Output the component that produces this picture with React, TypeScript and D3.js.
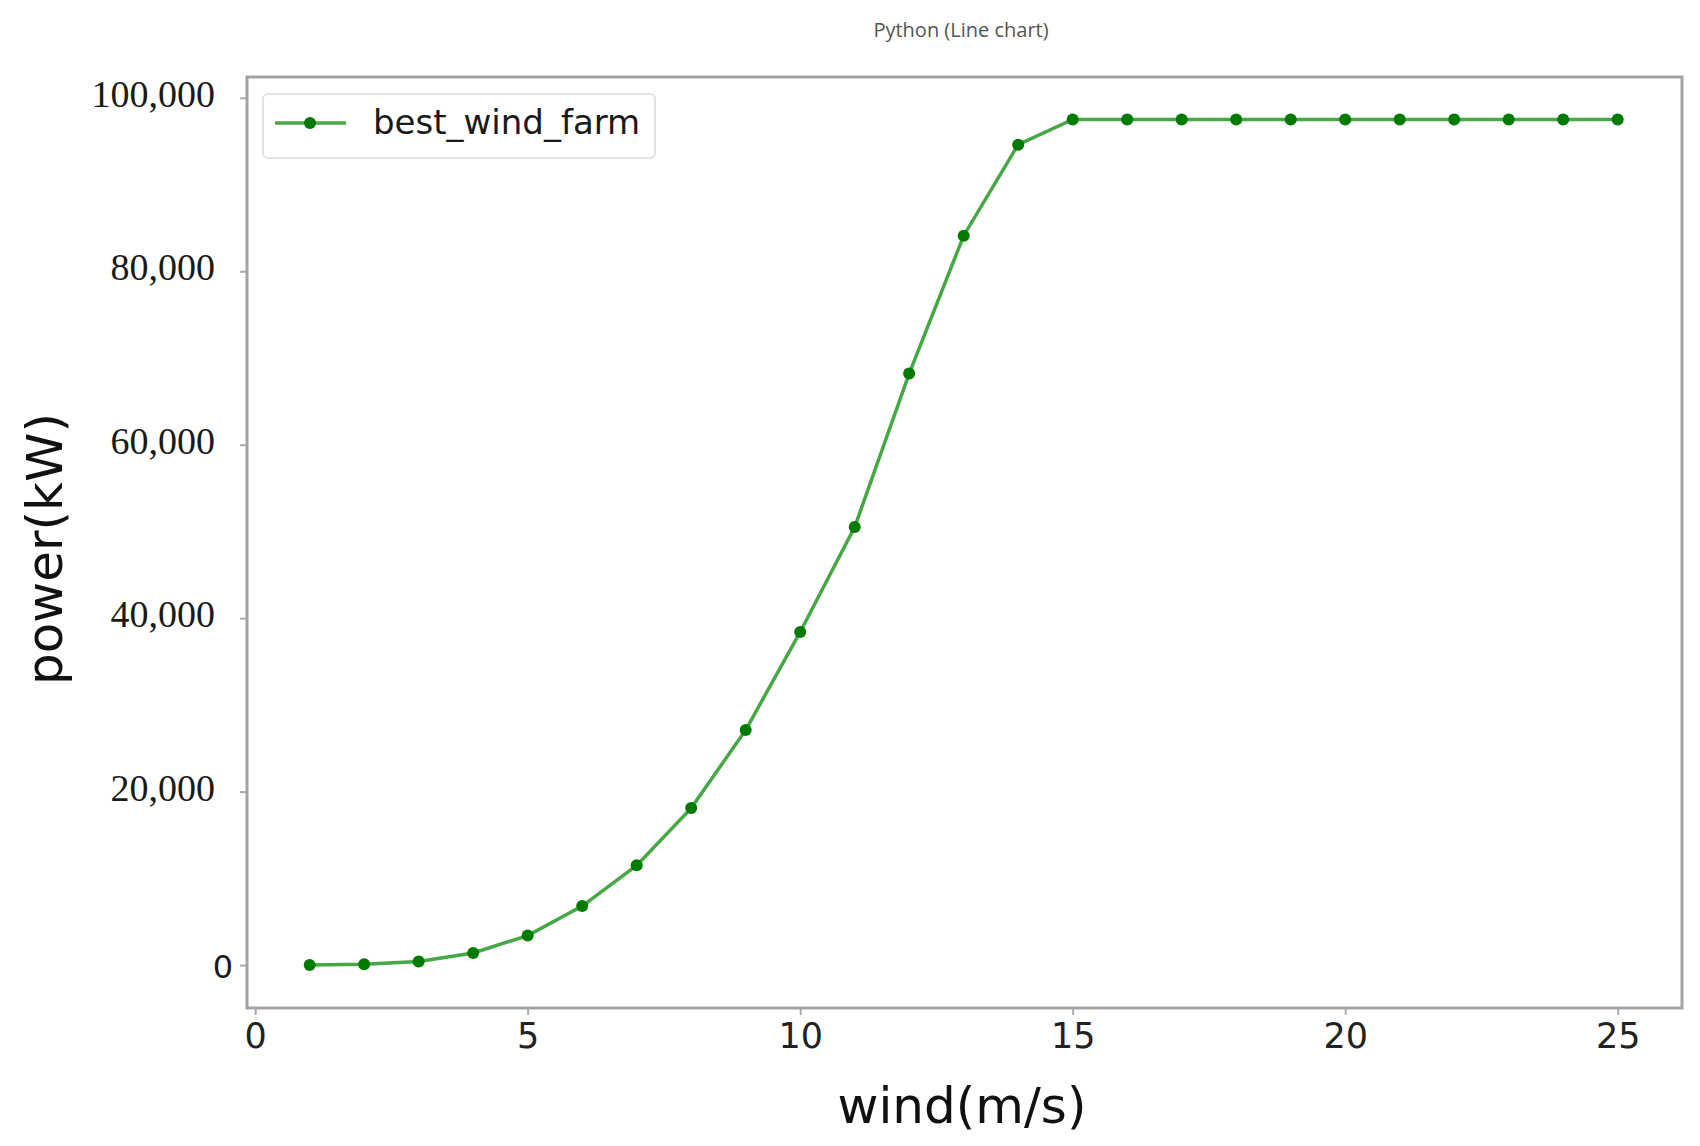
import * as d3 from "d3";
import { useEffect, useRef } from "react";

// wind speed (m/s) and farm output (kW)
const windSpeeds = [
  1, 2, 3, 4, 5, 6, 7, 8, 9, 10, 11, 12, 13, 14, 15, 16, 17, 18, 19, 20, 21,
  22, 23, 24, 25,
];
const farmPower = [
  0, 100, 400, 1400, 3400, 6800, 11500, 18100, 27100, 38400, 50500, 68200,
  84100, 94600, 97500, 97500, 97500, 97500, 97500, 97500, 97500, 97500, 97500,
  97500, 97500,
];
const xTicks = [0, 5, 10, 15, 20, 25];
const yTicks = [0, 20000, 40000, 60000, 80000, 100000];
const seriesName = "best_wind_farm";

const WIDTH = 1700;
const HEIGHT = 1146;

export default function App() {
  const svgRef = useRef<SVGSVGElement>(null);

  useEffect(() => {
    const svg = d3.select(svgRef.current);
    svg.selectAll("*").remove();

    const left = 247;
    const right = 1682;
    const top = 77;
    const bottom = 1008;

    const x = d3.scaleLinear().domain([-0.15, 26.18]).range([left, right]);
    const y = d3.scaleLinear().domain([-4950, 102400]).range([bottom, top]);

    // title
    svg
      .append("text")
      .attr("x", 961)
      .attr("y", 37)
      .attr("text-anchor", "middle")
      .attr("font-family", "'Open Sans', sans-serif")
      .attr("font-size", 20)
      .attr("fill", "#555")
      .text("Python (Line chart)");

    // x axis
    const xAxis = svg
      .append("g")
      .attr("transform", `translate(0,${bottom})`)
      .call(
        d3
          .axisBottom(x)
          .tickValues(xTicks)
          .tickSize(7)
          .tickPadding(8)
          .tickFormat((d) => `${d}`)
      );
    xAxis.select(".domain").remove();
    xAxis.selectAll(".tick line").attr("stroke", "#aaa").attr("stroke-width", 2);
    xAxis
      .selectAll(".tick text")
      .attr("font-family", "'DejaVu Sans', sans-serif")
      .attr("font-size", 35)
      .attr("fill", "#222");

    // y axis: 0 in sans, the rest in serif
    const yAxis = svg
      .append("g")
      .attr("transform", `translate(${left},0)`)
      .call(d3.axisLeft(y).tickValues(yTicks).tickSize(7).tickFormat(() => ""));
    yAxis.select(".domain").remove();
    yAxis.selectAll(".tick line").attr("stroke", "#aaa").attr("stroke-width", 2);

    svg
      .append("g")
      .selectAll("text")
      .data(yTicks)
      .join("text")
      .attr("x", (d) => (d === 0 ? 233 : 215))
      .attr("y", (d) => (d === 0 ? y(d) + 2 : y(d) - 4))
      .attr("text-anchor", "end")
      .attr("dominant-baseline", "central")
      .attr("font-family", (d) =>
        d === 0 ? "'DejaVu Sans', sans-serif" : "'Liberation Serif', serif"
      )
      .attr("font-size", (d) => (d === 0 ? 32 : 38))
      .attr("fill", "#1a1a1a")
      .text((d) => d3.format(",")(d));

    // axis labels
    svg
      .append("text")
      .attr("x", 962)
      .attr("y", 1123)
      .attr("text-anchor", "middle")
      .attr("font-family", "'DejaVu Sans', sans-serif")
      .attr("font-size", 50)
      .attr("fill", "#111")
      .text("wind(m/s)");

    svg
      .append("text")
      .attr("transform", "translate(62,549) rotate(-90)")
      .attr("text-anchor", "middle")
      .attr("font-family", "'DejaVu Sans', sans-serif")
      .attr("font-size", 50)
      .attr("fill", "#111")
      .text("power(kW)");

    // series
    const points = windSpeeds.map((w, i) => [w, farmPower[i]] as [number, number]);
    const line = d3
      .line<[number, number]>()
      .x((d) => x(d[0]))
      .y((d) => y(d[1]));

    svg
      .append("path")
      .datum(points)
      .attr("d", line)
      .attr("fill", "none")
      .attr("stroke", "#45a845")
      .attr("stroke-width", 3.5);

    svg
      .append("g")
      .selectAll("circle")
      .data(points)
      .join("circle")
      .attr("cx", (d) => x(d[0]))
      .attr("cy", (d) => y(d[1]))
      .attr("r", 6)
      .attr("fill", "#007a00");

    // spines
    svg
      .append("rect")
      .attr("x", left)
      .attr("y", top)
      .attr("width", right - left)
      .attr("height", bottom - top)
      .attr("fill", "none")
      .attr("stroke", "#a3a3a3")
      .attr("stroke-width", 3);

    // legend
    const legend = svg.append("g");
    legend
      .append("rect")
      .attr("x", 263)
      .attr("y", 94)
      .attr("width", 392)
      .attr("height", 64)
      .attr("rx", 5)
      .attr("fill", "white")
      .attr("stroke", "#e2e2e2")
      .attr("stroke-width", 2);
    legend
      .append("line")
      .attr("x1", 275)
      .attr("x2", 346)
      .attr("y1", 123)
      .attr("y2", 123)
      .attr("stroke", "#45a845")
      .attr("stroke-width", 3.5);
    legend
      .append("circle")
      .attr("cx", 310)
      .attr("cy", 123)
      .attr("r", 6)
      .attr("fill", "#007a00");
    legend
      .append("text")
      .attr("x", 373)
      .attr("y", 134)
      .attr("font-family", "'DejaVu Sans', sans-serif")
      .attr("font-size", 34)
      .attr("fill", "#1a1a1a")
      .text(seriesName);
  }, []);

  return (
    <svg
      ref={svgRef}
      width={WIDTH}
      height={HEIGHT}
      style={{ position: "absolute", left: 0, top: 0, background: "white" }}
    />
  );
}
